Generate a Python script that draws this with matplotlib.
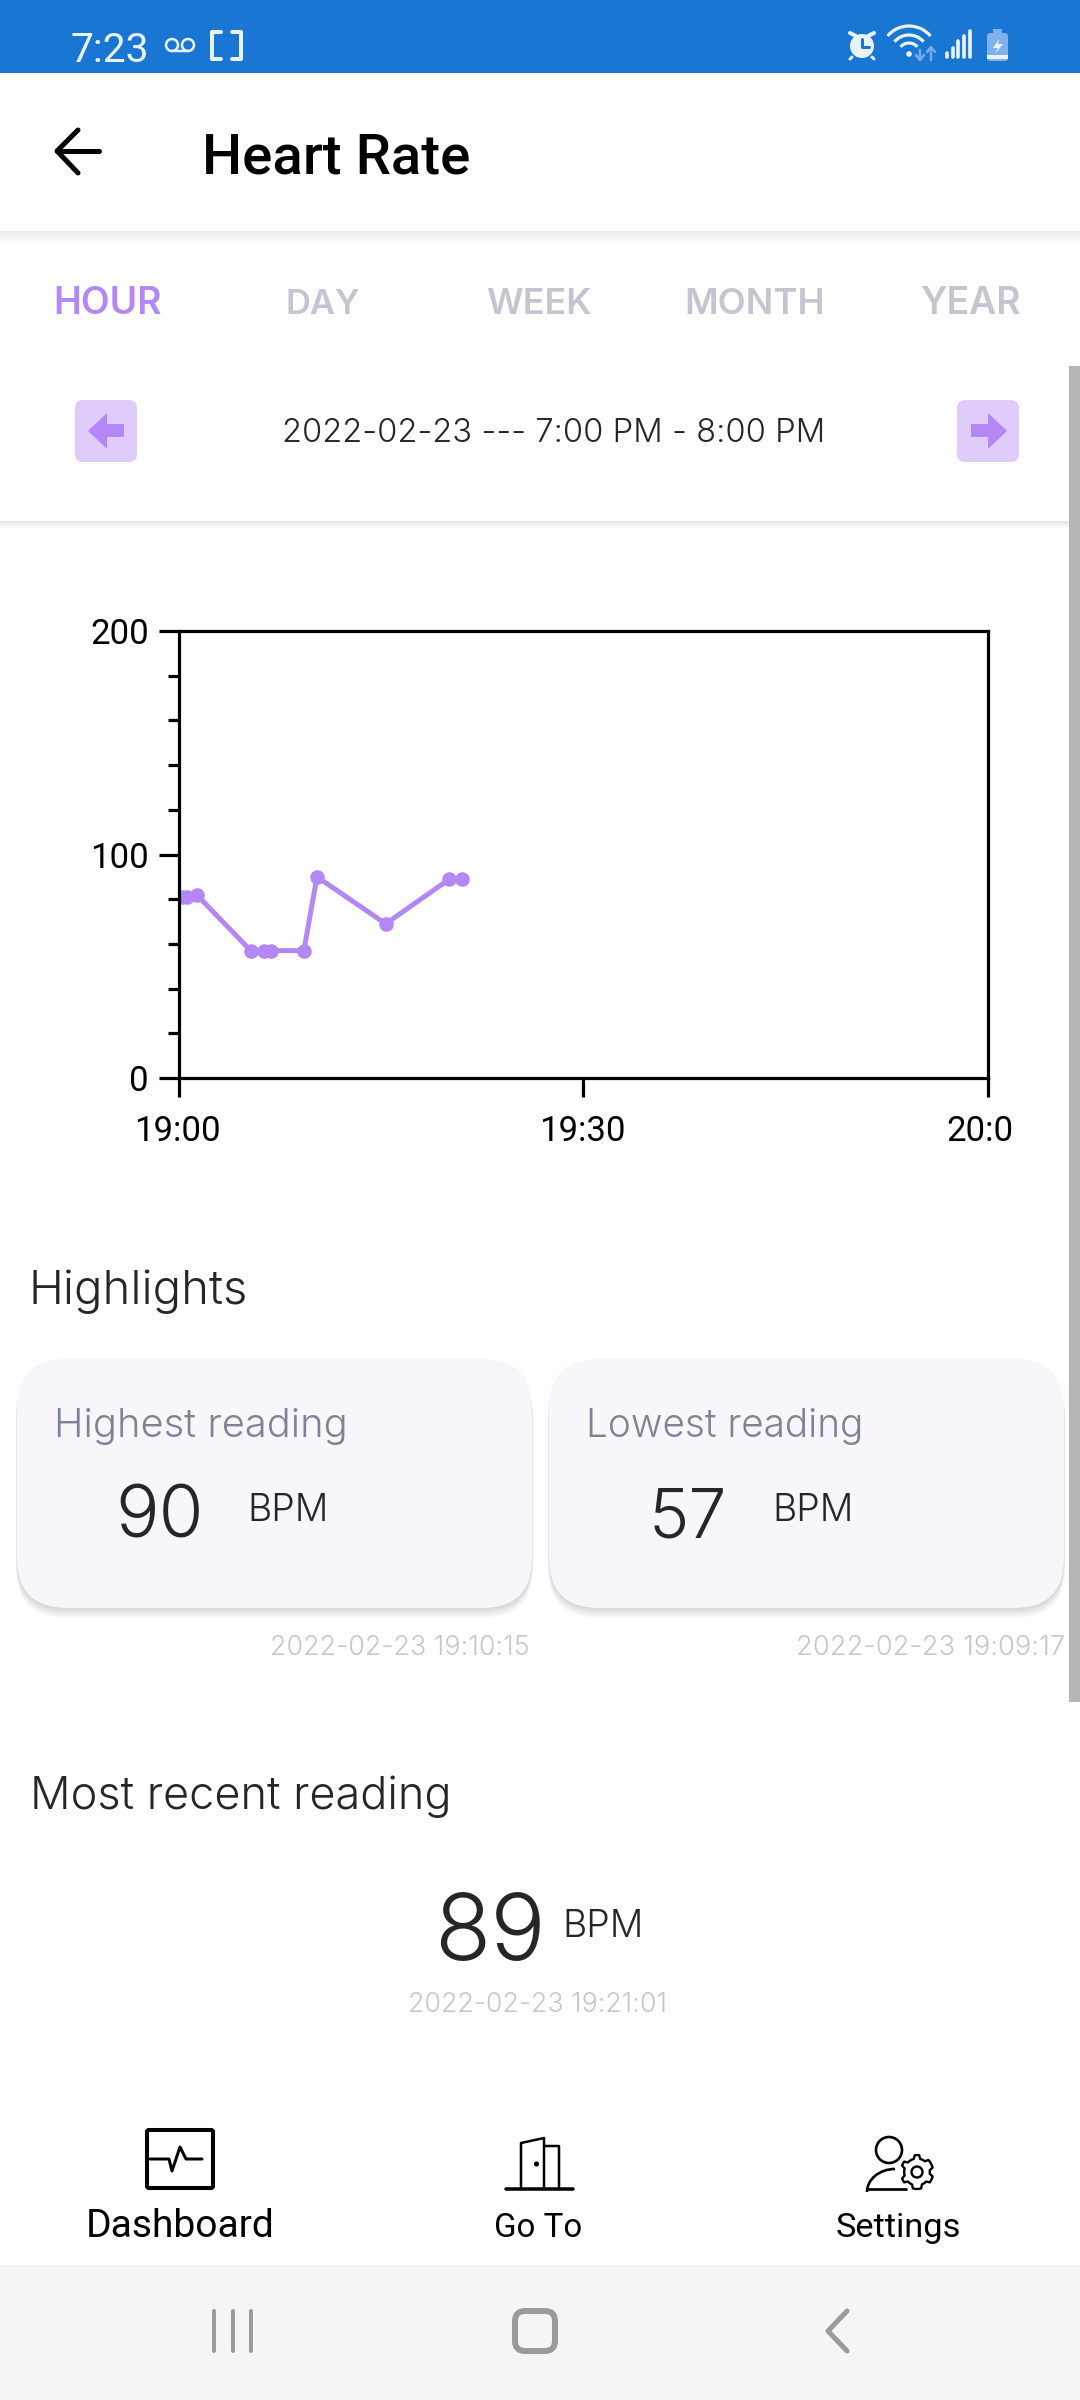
import numpy as np
import matplotlib
matplotlib.use("Agg")
import matplotlib.pyplot as plt
from matplotlib.patches import FancyBboxPatch, Rectangle, Circle, Polygon, Arc
from matplotlib.transforms import ScaledTranslation

# ---- data ----
minutes = [0.25, 0.6, 1.33, 5.34, 6.33, 6.82, 9.28, 10.25, 15.35, 20.07, 21.02]
bpm = [81, 81, 82, 57, 57, 57, 57, 90, 69, 89, 89]
x_ticks = [0, 30, 60]
x_tick_labels = ["19:00", "19:30", "20:0"]
y_major = [0, 100, 200]
y_minor = [20, 40, 60, 80, 120, 140, 160, 180]
tabs = ["HOUR", "DAY", "WEEK", "MONTH", "YEAR"]
range_label = "2022-02-23 --- 7:00 PM - 8:00 PM"
highest = ("Highest reading", "90", "2022-02-23 19:10:15")
lowest = ("Lowest reading", "57", "2022-02-23 19:09:17")
recent = ("Most recent reading", "89", "2022-02-23 19:21:01")
nav_items = ["Dashboard", "Go To", "Settings"]

PURPLE = "#B388F6"
LIGHTP = "#DFCCFB"
GREYT = "#C5C5D2"
DARK = "#262628"
LIGHT_FONT = "Inter"
LIGHT_W = 300
UI_FONT = "Roboto"

W, H = 1080, 2400
fig = plt.figure(figsize=(W / 100, H / 100), dpi=100, facecolor="white")
ui = fig.add_axes([0, 0, 1, 1], zorder=1)
ui.set_xlim(0, W)
ui.set_ylim(H, 0)
ui.axis("off")
renderer = fig.canvas.get_renderer()


def fit(s, x0, x1, base, color=DARK, family=LIGHT_FONT, weight=LIGHT_W, z=5):
    x0, x1 = x0 - 2.5, x1 + 2
    t = ui.text(x0, base, s, ha="left", va="baseline", color=color,
                family=family, weight=weight, fontsize=20, zorder=z)
    for _ in range(3):
        w = t.get_window_extent(renderer).width
        t.set_fontsize(t.get_fontsize() * (x1 - x0) / w)
    return t


def rrect(x0, y0, x1, y1, r, **kw):
    p = FancyBboxPatch((x0 + r, y0 + r), x1 - x0 - 2 * r, y1 - y0 - 2 * r,
                       boxstyle=f"round,pad={r},rounding_size={r}", **kw)
    ui.add_patch(p)
    return p


def rect(x0, y0, x1, y1, color, z=1, alpha=1):
    ui.add_patch(Rectangle((x0, y0), x1 - x0, y1 - y0, fc=color, ec="none", zorder=z, alpha=alpha))


def poly(pts, lw=3, color="black", z=5, closed=False, fill=None):
    ui.add_patch(Polygon(pts, closed=closed, fc=fill if fill else "none", ec=color,
                         lw=lw * 0.72, zorder=z, joinstyle="round", capstyle="round"))


# ---- status bar ----
rect(0, 0, W, 73, "#1976D2", z=2)
WHITE = "#EAF3FC"
fit("7:23", 73, 147, 62, color=WHITE, family=UI_FONT, weight="normal")
ui.add_patch(Circle((172, 45), 6, fc="none", ec=WHITE, lw=1.8, zorder=5))
ui.add_patch(Circle((188, 45), 6, fc="none", ec=WHITE, lw=1.8, zorder=5))
poly([(172, 51), (188, 51)], lw=2.5, color=WHITE)
poly([(221, 32), (212, 32), (212, 59), (221, 59)], lw=4, color=WHITE)
poly([(232, 32), (241, 32), (241, 59), (232, 59)], lw=4, color=WHITE)
# alarm
ui.add_patch(Circle((862, 46), 12, fc=WHITE, ec="none", zorder=5))
poly([(850, 33), (856, 36)], lw=4, color=WHITE)
poly([(874, 33), (868, 36)], lw=4, color=WHITE)
poly([(852, 57), (850, 59)], lw=3, color=WHITE)
poly([(872, 57), (874, 59)], lw=3, color=WHITE)
poly([(862, 39), (862, 47), (869, 47)], lw=3, color="#1976D2", z=6)
# wifi
for r in (11, 19, 28):
    ui.add_patch(Arc((909, 54), 2 * r, 2 * r, theta1=220, theta2=320, ec=WHITE, lw=2.3, zorder=5))
ui.add_patch(Circle((909, 54), 2.8, fc=WHITE, ec="none", zorder=5))
poly([(920, 50), (920, 60), (916, 55), (920, 60), (924, 55)], lw=2.5, color="#74A9E6")
poly([(931, 60), (931, 47), (927, 52), (931, 47), (935, 52)], lw=2.5, color="#74A9E6")
# signal
for bx, top in zip((947, 953, 958, 964, 970), (53, 48, 41, 36, 31)):
    poly([(bx, top), (bx, 57)], lw=3.6, color=WHITE)
# battery
rrect(987, 33, 1008, 61, 3, fc="#7FB2EC", ec="none", zorder=5)
rect(993, 29, 1002, 34, "#7FB2EC", z=5)
rect(987, 55, 1008, 59, WHITE, z=6)
ui.add_patch(Polygon([(999, 39), (993, 48), (998, 48), (995, 54), (1003, 44), (998, 44)],
                     closed=True, fc=WHITE, ec="none", zorder=7))

# ---- header ----
for i, a in enumerate(np.linspace(0.10, 0.0, 14)):
    rect(0, 231 + i, W, 232 + i, "#555555", z=1, alpha=a)
poly([(99, 151), (57, 151)], lw=5, color="black")
poly([(78, 130), (57, 151), (78, 173)], lw=5, color="black")
fit("Heart Rate", 204, 468, 174, color="black", family=UI_FONT, weight="medium")

# ---- tabs ----
tab_spans = [(56, 160), (288, 358), (489, 590), (687, 823), (923, 1019)]
for i, (lab, (a, b)) in enumerate(zip(tabs, tab_spans)):
    fit(lab, a, b, 314, color=PURPLE if i == 0 else GREYT, weight=600)

# ---- range selector ----
for i, a in enumerate(np.linspace(0.14, 0.0, 8)):
    rect(0, 521 + i, W, 522 + i, "#555555", z=1, alpha=a)
rrect(75, 400, 137, 462, 8, fc=LIGHTP, ec="none", zorder=3)
rrect(957, 400, 1019, 462, 8, fc=LIGHTP, ec="none", zorder=3)
ui.add_patch(Polygon([(88, 431), (107, 413), (107, 424), (124, 424), (124, 437), (107, 437), (107, 449)],
                     closed=True, fc=PURPLE, ec="none", zorder=4))
ui.add_patch(Polygon([(1007, 431), (988, 413), (988, 424), (971, 424), (971, 437), (988, 437), (988, 449)],
                     closed=True, fc=PURPLE, ec="none", zorder=4))
fit(range_label, 285, 823, 442, color=DARK)

# scrollbar
rect(1069, 366, W, 1702, "#B5B5B5", z=8)

# ---- chart ----
L, R, T, B = 178.7, 988, 631, 1078
ax = fig.add_axes([L / W, 1 - B / H, (R - L) / W, (B - T) / H], zorder=2, facecolor="none")
ax.plot(minutes, bpm, color=PURPLE, lw=3.6, marker="o", ms=10.5, mew=0, zorder=2)
ax.set_xlim(0, 60)
ax.set_ylim(0, 200)
ax.set_xticks(x_ticks, x_tick_labels, family=UI_FONT, fontsize=25)
ax.set_yticks(y_major, [str(v) for v in y_major], family=UI_FONT, fontsize=25)
ax.set_yticks(y_minor, minor=True)
ax.tick_params(axis="x", length=14, width=2.3, pad=12.5, color="black")
ax.tick_params(axis="y", which="major", length=14.5, width=2.3, pad=7)
ax.tick_params(axis="y", which="minor", length=8, width=2.3)
for s in ax.spines.values():
    s.set_linewidth(2.3)
    s.set_zorder(5)
for lab in ax.get_xticklabels():
    lab.set_transform(lab.get_transform() + ScaledTranslation(-1.5 / 100, 0, fig.dpi_scale_trans))
last = ax.get_xticklabels()[-1]
last.set_transform(last.get_transform() + ScaledTranslation(-6.5 / 100, 0, fig.dpi_scale_trans))

# ---- highlights ----
fit("Highlights", 31, 246, 1304)
cards = [(17, 532, highest, (56, 344), (118, 202), (250, 327), (273, 528)),
         (549, 1064, lowest, (589, 862), (651, 725), (775, 852), (799, 1063))]
for x0, x1, (title, val, stamp), ts, vs, us, ds in cards:
    for k in range(10, 0, -1):
        rrect(x0 - k * 0.1, 1359 + 6, x1 + k * 0.1, 1608 + k * 1.0, 50, fc="#707070", ec="none",
              alpha=0.028, zorder=2)
    rrect(x0, 1359, x1, 1608, 50, fc="#F8F5FB", ec="none", zorder=3)
    fit(title, ts[0], ts[1], 1437, color="#7D8396")
    fit(val, vs[0], vs[1], 1537)
    fit("BPM", us[0], us[1], 1521)
    fit(stamp, ds[0], ds[1], 1655, color="#C6C6CE")

# ---- most recent ----
fit(recent[0], 32, 449, 1809)
fit(recent[1], 437, 544, 1960)
fit("BPM", 565, 642, 1937)
fit(recent[2], 411, 666, 2012, color="#C6C6CE")

# ---- bottom navigation ----
rrect(147, 2130, 213, 2188, 2, fc="none", ec="black", lw=2.9, zorder=5)
poly([(150, 2159), (169, 2159), (172, 2171), (180, 2147), (186, 2159), (202, 2159)], lw=3)
poly([(506, 2189), (573, 2189)], lw=3.5)
poly([(521, 2189), (521, 2143), (544, 2138), (544, 2189)], lw=2.5)
poly([(544, 2146), (559, 2146), (559, 2189)], lw=2.5)
ui.add_patch(Circle((536.5, 2164), 2.6, fc="black", ec="none", zorder=5))
ui.add_patch(Circle((889, 2150), 13, fc="none", ec="black", lw=1.9, zorder=5))
ui.add_patch(Arc((895, 2192), 56, 46, theta1=180, theta2=270, ec="black", lw=1.9, zorder=5))
poly([(867, 2189), (906, 2189)], lw=2.7)
# gear outline
ang = np.deg2rad(np.arange(0, 360, 7.5))
rad = 13.5 + 3.5 * (np.cos(6 * ang) > 0)
gear = np.column_stack([917 + rad * np.sin(ang) * 0.95, 2172 + rad * np.cos(ang)])
ui.add_patch(Polygon(gear, closed=True, fc="white", ec="black", lw=1.7, zorder=5, joinstyle="round"))
ui.add_patch(Circle((917, 2172), 5.5, fc="none", ec="black", lw=1.7, zorder=6))
fit(nav_items[0], 88, 272, 2237, color="black", family=UI_FONT, weight="normal")
fit(nav_items[1], 497, 581, 2237, color="black", family=UI_FONT, weight="normal")
fit(nav_items[2], 838, 959, 2237, color="black", family=UI_FONT, weight="normal")

# ---- system navigation ----
rect(0, 2265, W, H, "#F5F5F5", z=1)
NG = "#9A9A9A"
for bx in (214, 233, 251):
    poly([(bx, 2311), (bx, 2351)], lw=4, color=NG)
rrect(515, 2311, 555, 2351, 10, fc="none", ec=NG, lw=4.3, zorder=5)
poly([(847, 2311), (828, 2331), (847, 2351)], lw=5, color=NG)

fig.savefig("out.png", dpi=100, facecolor="white")
